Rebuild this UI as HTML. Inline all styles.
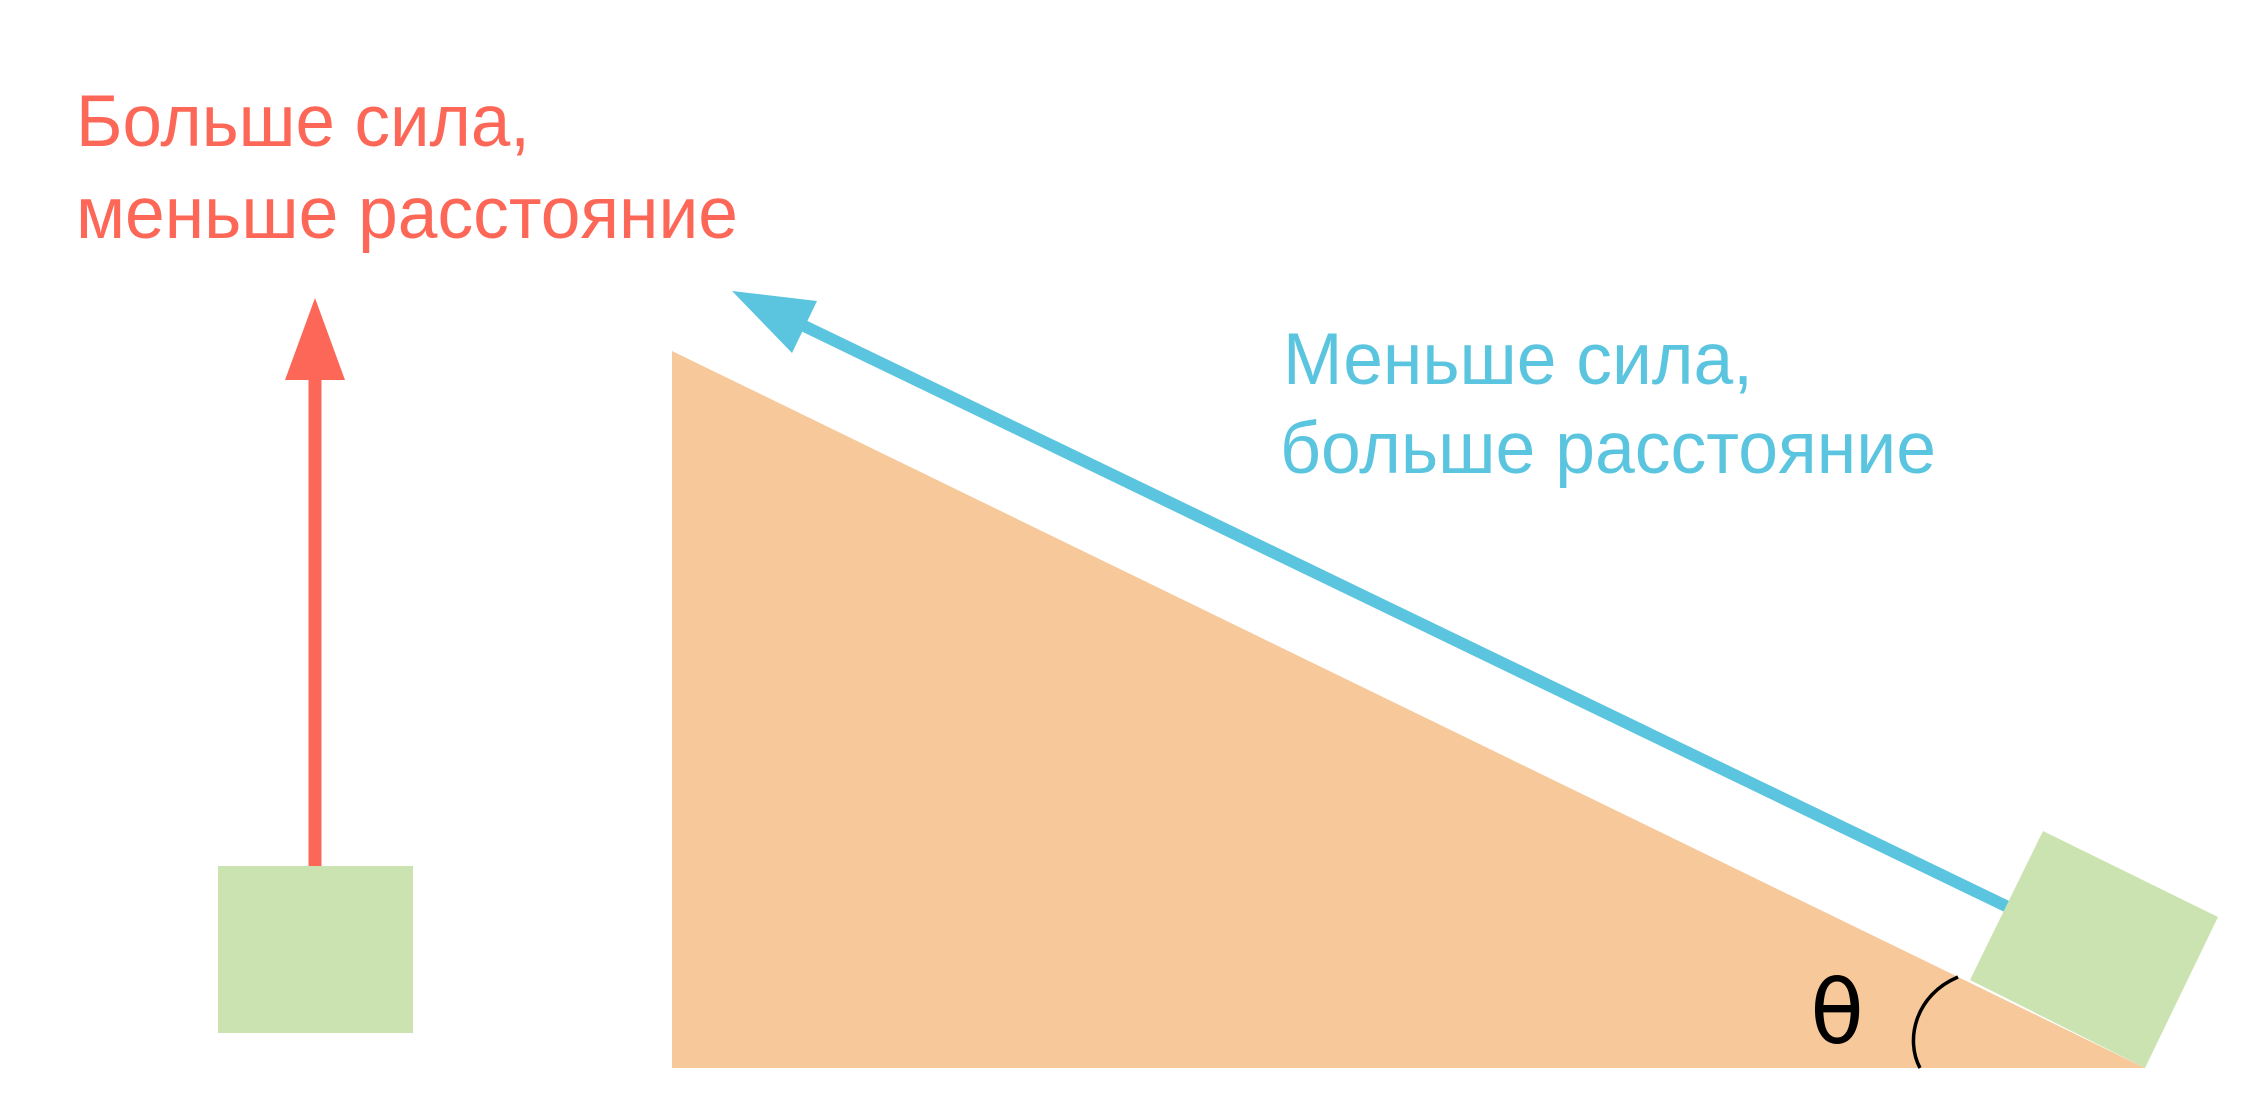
<!DOCTYPE html>
<html><head><meta charset="utf-8"><style>html,body{margin:0;padding:0;background:#fff;}svg{display:block}</style></head>
<body>
<svg width="2247" height="1114" viewBox="0 0 2247 1114" xmlns="http://www.w3.org/2000/svg">
<rect width="2247" height="1114" fill="#fff"/>
<g font-family="Liberation Sans, DejaVu Sans, sans-serif" font-size="73">
<text x="76" y="146" fill="#fd6758" textLength="454" lengthAdjust="spacingAndGlyphs">Больше сила,</text>
<text x="76" y="238" fill="#fd6758" textLength="662" lengthAdjust="spacingAndGlyphs">меньше расстояние</text>
<text x="1283" y="384" fill="#5bc5df" textLength="470" lengthAdjust="spacingAndGlyphs">Меньше сила,</text>
<text x="1280" y="473" fill="#5bc5df" textLength="656" lengthAdjust="spacingAndGlyphs">больше расстояние</text>
</g>
<polygon points="672,351 672,1068 2145,1068" fill="#f6c89a"/>
<rect x="218" y="866" width="195" height="167" fill="#cbe3b0"/>
<line x1="315" y1="866" x2="315" y2="375" stroke="#fd6758" stroke-width="13"/>
<polygon points="315,298 285,380 345,380" fill="#fd6758"/>
<line x1="2010" y1="908" x2="800" y2="324" stroke="#5bc5df" stroke-width="12"/>
<polygon points="732,291 817,301 792,353" fill="#5bc5df"/>
<polygon points="2043,831 2218,917 2145,1068 1970,980" fill="#cbe3b0"/>
<text x="1837" y="1043" text-anchor="middle" font-family="DejaVu Sans, sans-serif" font-size="88" fill="#000">θ</text>
<path d="M1958,977 C1915,995 1905,1040 1920,1068" fill="none" stroke="#000" stroke-width="3.5"/>
</svg>
</body></html>
